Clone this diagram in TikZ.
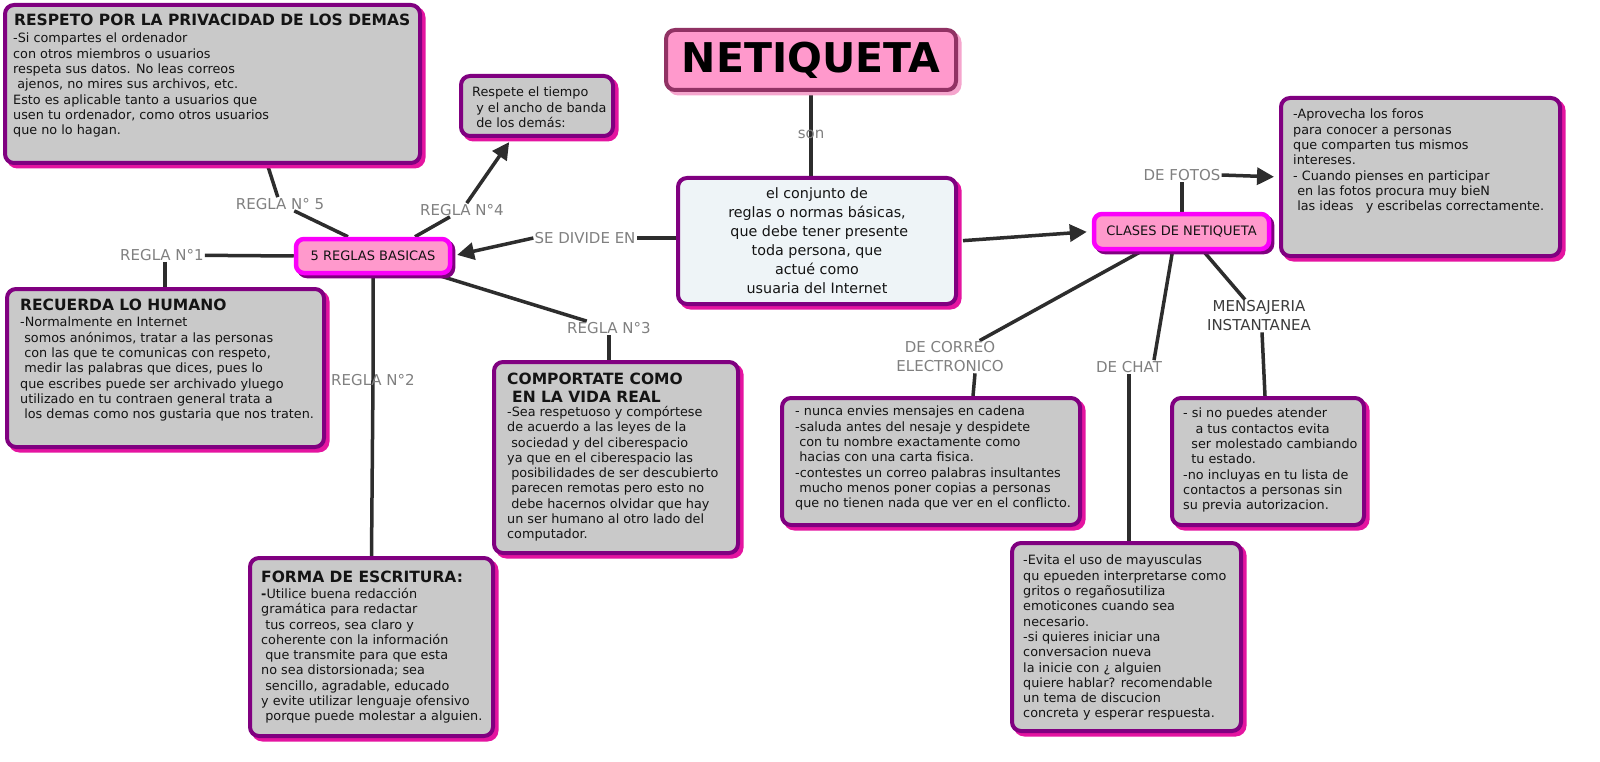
\documentclass[tikz,border=0pt]{standalone}
\usepackage{fontspec}
\setmainfont{DejaVu Sans}
\usetikzlibrary{arrows.meta,shadows,calc}
\definecolor{boxgrey}{RGB}{201,201,201}
\definecolor{bpurple}{RGB}{128,0,128}
\definecolor{shmag}{RGB}{228,20,160}
\definecolor{pinkfill}{RGB}{255,153,204}
\definecolor{pinkborder}{RGB}{250,0,250}
\definecolor{netborder}{RGB}{145,50,100}
\definecolor{netshadow}{RGB}{245,165,205}
\definecolor{centerfill}{RGB}{238,244,247}
\definecolor{labgrey}{RGB}{128,128,128}
\definecolor{labdark}{RGB}{60,60,60}
\definecolor{linecol}{RGB}{45,45,45}
\definecolor{txt}{RGB}{20,20,20}
\newcommand{\myind}{\hspace*{0.32em}}
\pgfdeclarelayer{bg}
\pgfsetlayers{bg,main}
\begin{document}
\begin{tikzpicture}[x=1pt,y=-1pt,
  gbox/.style={draw=bpurple, line width=4pt, fill=boxgrey, rounded corners=9pt, inner sep=0pt,
     general shadow={shadow xshift=3.5pt, shadow yshift=-3.5pt, fill=shmag, draw=shmag, line width=4pt}},
  cbx/.style={gbox, fill=centerfill},
  pbox/.style={draw=pinkborder, line width=4.5pt, fill=pinkfill, rounded corners=8pt, inner sep=0pt,
     font=\fontsize{13}{15}\selectfont, text=txt,
     general shadow={shadow xshift=3pt, shadow yshift=-3pt, fill=bpurple, draw=bpurple, line width=4.5pt}},
  nbox/.style={draw=netborder, line width=4pt, fill=pinkfill, rounded corners=9pt, inner sep=0pt,
     font=\bfseries\fontsize{41}{48}\selectfont, text=black,
     general shadow={shadow xshift=3.5pt, shadow yshift=-3.5pt, fill=netshadow, draw=netshadow, line width=4pt}},
  body/.style={font=\fontsize{12.8}{15.3}\selectfont, align=left, anchor=north west, inner sep=0pt, text=txt},
  ttl/.style={font=\bfseries\fontsize{15.5}{18}\selectfont, align=left, anchor=north west, inner sep=0pt, text=txt},
  lab/.style={font=\fontsize{15}{19}\selectfont, text=labgrey, inner sep=1pt, align=center},
  conn/.style={draw=linecol, line width=3.5pt},
  arr/.style={conn, -{Triangle[length=17pt,width=17pt]}, shorten >=5pt}
]
\begin{pgfonlayer}{bg}
\fill[white] (0,0) rectangle (1600,762);
\end{pgfonlayer}
\useasboundingbox (0,0) rectangle (1600,762);

% ---------- boxes ----------
\node[gbox, minimum width=415pt, minimum height=158pt] (respeto) at (212.5,84) {};
\node[ttl] (respetoT) at (14,13.4) {RESPETO POR LA PRIVACIDAD DE LOS DEMAS};
\node[body] (respetoB) at (13,33) {-Si compartes el ordenador\\
con otros miembros o usuarios\\
respeta sus datos. No leas correos\\
\myind ajenos, no mires sus archivos, etc.\\
Esto es aplicable tanto a usuarios que\\
usen tu ordenador, como otros usuarios\\
que no lo hagan.};

\node[gbox, minimum width=152pt, minimum height=60pt] (tiempo) at (537,106) {};
\node[body] (tiempoB) at (472,87) {Respete el tiempo\\
\myind y el ancho de banda\\
\myind de los demás:};

\node[nbox, minimum width=290pt, minimum height=60pt] (netiq) at (811,60) {NETIQUETA};

\node[cbx, minimum width=278pt, minimum height=126pt, align=center,
      font=\fontsize{14.3}{19}\selectfont, text=txt] (cbox) at (817,241) {el conjunto de\\
reglas o normas básicas,\\
\myind que debe tener presente\\
toda persona, que\\
actué como\\
usuaria del Internet};

\node[pbox, minimum width=154pt, minimum height=34pt] (reglas) at (373,256) {5 REGLAS BASICAS};
\node[pbox, minimum width=175pt, minimum height=35pt] (clases) at (1181.5,231.5) {CLASES DE NETIQUETA};

\node[gbox, minimum width=317pt, minimum height=158pt] (humano) at (165.5,368) {};
\node[ttl] (humanoT) at (20,298.4) {RECUERDA LO HUMANO};
\node[body] (humanoB) at (20,317) {-Normalmente en Internet\\
\myind somos anónimos, tratar a las personas\\
\myind con las que te comunicas con respeto,\\
\myind medir las palabras que dices, pues lo\\
que escribes puede ser archivado yluego\\
utilizado en tu contraen general trata a\\
\myind los demas como nos gustaria que nos traten.};

\node[gbox, minimum width=244pt, minimum height=191pt] (comporta) at (616,457.5) {};
\node[ttl] (comportaT) at (507,372.4) {COMPORTATE COMO\\ \myind EN LA VIDA REAL};
\node[body] (comportaB) at (507,406) {-Sea respetuoso y compórtese\\
de acuerdo a las leyes de la\\
\myind sociedad y del ciberespacio\\
ya que en el ciberespacio las\\
\myind posibilidades de ser descubierto\\
\myind parecen remotas pero esto no\\
\myind debe hacernos olvidar que hay\\
un ser humano al otro lado del\\
computador.};

\node[gbox, minimum width=243pt, minimum height=178pt] (forma) at (371.5,647) {};
\node[ttl] (formaT) at (261,570.4) {FORMA DE ESCRITURA:};
\node[body] (formaB) at (261,588) {\textbf{-}Utilice buena redacción\\
gramática para redactar\\
\myind tus correos, sea claro y\\
coherente con la información\\
\myind que transmite para que esta\\
no sea distorsionada; sea\\
\myind sencillo, agradable, educado\\
y evite utilizar lenguaje ofensivo\\
\myind porque puede molestar a alguien.};

\node[gbox, minimum width=279pt, minimum height=158pt] (aprov) at (1420.5,177) {};
\node[body] (aprovB) at (1293,109) {-Aprovecha los foros\\
para conocer a personas\\
que comparten tus mismos\\
intereses.\\
- Cuando pienses en participar\\
\myind en las fotos procura muy bieN\\
\myind las ideas\myind\myind\myind y escribelas correctamente.};

\node[gbox, minimum width=298pt, minimum height=127pt] (correo) at (931,461.5) {};
\node[body] (correoB) at (795,406) {- nunca envies mensajes en cadena\\
-saluda antes del nesaje y despidete\\
\myind con tu nombre exactamente como\\
\myind hacias con una carta fisica.\\
-contestes un correo palabras insultantes\\
\myind mucho menos poner copias a personas\\
que no tienen nada que ver en el conflicto.};

\node[gbox, minimum width=192pt, minimum height=127pt] (mensaj) at (1268,461.5) {};
\node[body] (mensajB) at (1183,408) {- si no puedes atender\\
\myind\myind\myind a tus contactos evita\\
\myind\myind ser molestado cambiando\\
\myind\myind tu estado.\\
-no incluyas en tu lista de\\
contactos a personas sin\\
su previa autorizacion.};

\node[gbox, minimum width=229pt, minimum height=188pt] (chat) at (1126.5,637) {};
\node[body] (chatB) at (1023,555) {-Evita el uso de mayusculas\\
qu epueden interpretarse como\\
gritos o regañosutiliza\\
emoticones cuando sea\\
necesario.\\
-si quieres iniciar una\\
conversacion nueva\\
la inicie con ¿ alguien\\
quiere hablar? recomendable\\
un tema de discucion\\
concreta y esperar respuesta.};

% ---------- labels ----------
\node[lab] (son) at (811,134) {son};
\node[lab] (divide) at (585,238) {SE DIVIDE EN};
\node[lab] (r5) at (280,204) {REGLA N° 5};
\node[lab] (r4) at (462,210) {REGLA N°4};
\node[lab] (r1) at (162,255) {REGLA N°1};
\node[lab] (r2) at (373,380) {REGLA N°2};
\node[lab] (r3) at (609,328) {REGLA N°3};
\node[lab] (fotos) at (1182,175) {DE FOTOS};
\node[lab] (correoL) at (950,357) {DE CORREO\\ELECTRONICO};
\node[lab] (chatL) at (1129,367) {DE CHAT};
\node[lab, text=labdark] (mensL) at (1259,316) {MENSAJERIA\\INSTANTANEA};

% ---------- connectors ----------
\begin{pgfonlayer}{bg}
\draw[conn] (netiq.south) -- (son.center) -- (son.center |- cbox.north);
\draw[conn] (cbox.west |- divide) -- (divide.east);
\draw[conn] ([xshift=55pt]respeto.south) -- (r5);
\draw[conn] (r5) -- ([xshift=-25pt]reglas.north);
\draw[conn] ([xshift=42pt]reglas.north) -- (r4);
\draw[conn] (reglas.west) -- (r1);
\draw[conn] ([xshift=3pt]r1.south) -- ([xshift=3pt]r1.south |- humano.north);
\draw[conn] (reglas.south) -- (r2.center) -- (forma.north);
\draw[conn] ([xshift=65pt]reglas.south) -- (r3);
\draw[conn] (r3) -- (r3 |- comporta.north);
\draw[conn] (clases.north -| fotos) -- (fotos);
\draw[conn] ([xshift=-40pt]clases.south) -- (correoL);
\draw[conn] ([xshift=25pt]correoL.south) -- ([xshift=42pt]correo.north);
\draw[conn] ([xshift=-9pt]clases.south) -- ([xshift=25pt]chatL.north);
\draw[conn] (chatL.south) -- (chatL.south |- chat.north);
\draw[conn] ([xshift=22pt]clases.south) -- (mensL);
\draw[conn] ([xshift=3pt]mensL.south) -- ([xshift=-3pt]mensaj.north);
\end{pgfonlayer}
\draw[arr] (divide.west) -- (reglas.east);
\draw[arr, shorten <=5pt] (cbox.east) -- (clases.west);
\draw[arr] (r4) -- ([xshift=-25pt]tiempo.south);
\draw[arr] (fotos.east) -- (aprov.west);
\end{tikzpicture}
\end{document}
